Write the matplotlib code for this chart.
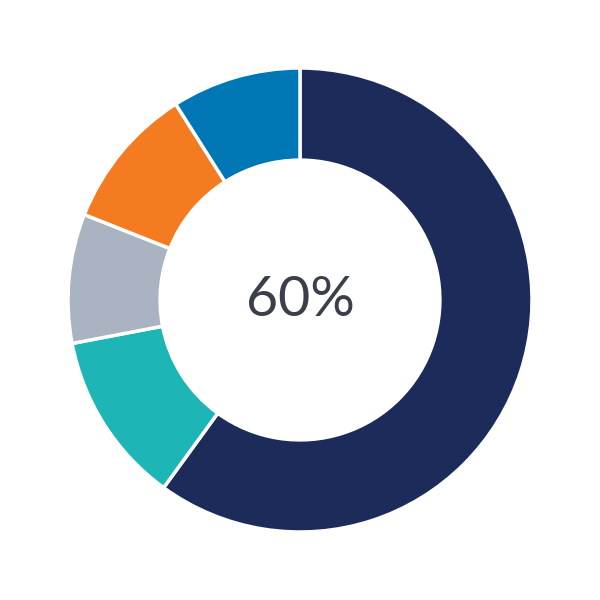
import matplotlib
matplotlib.use("Agg")
import matplotlib.pyplot as plt

# slice shares in percent, clockwise from the top
labels = ["Navy", "Teal", "Gray", "Orange", "Blue"]
values = [60, 12, 9, 10, 9]
colors = ["#1c2b5a", "#1db5b6", "#a9b3c1", "#f47b20", "#0077b5"]
center_text = "60%"

fig = plt.figure(figsize=(6, 6), dpi=100)
ax = fig.add_axes([0, 0, 1, 1])

ax.pie(values, colors=colors, startangle=90, counterclock=False,
       radius=1.0,
       wedgeprops=dict(width=0.397, edgecolor="white", linewidth=2.5))

ax.text(0, 0, center_text, ha="center", va="center", fontsize=40,
        family=["Lato", "DejaVu Sans"], fontweight="normal", color="#3a3f4a")

lim = 300 / 232
ax.set_xlim(-lim, lim)
ax.set_ylim(-lim, lim)
ax.set_aspect("equal")
ax.axis("off")

fig.savefig("out.png", dpi=100, facecolor="white")
